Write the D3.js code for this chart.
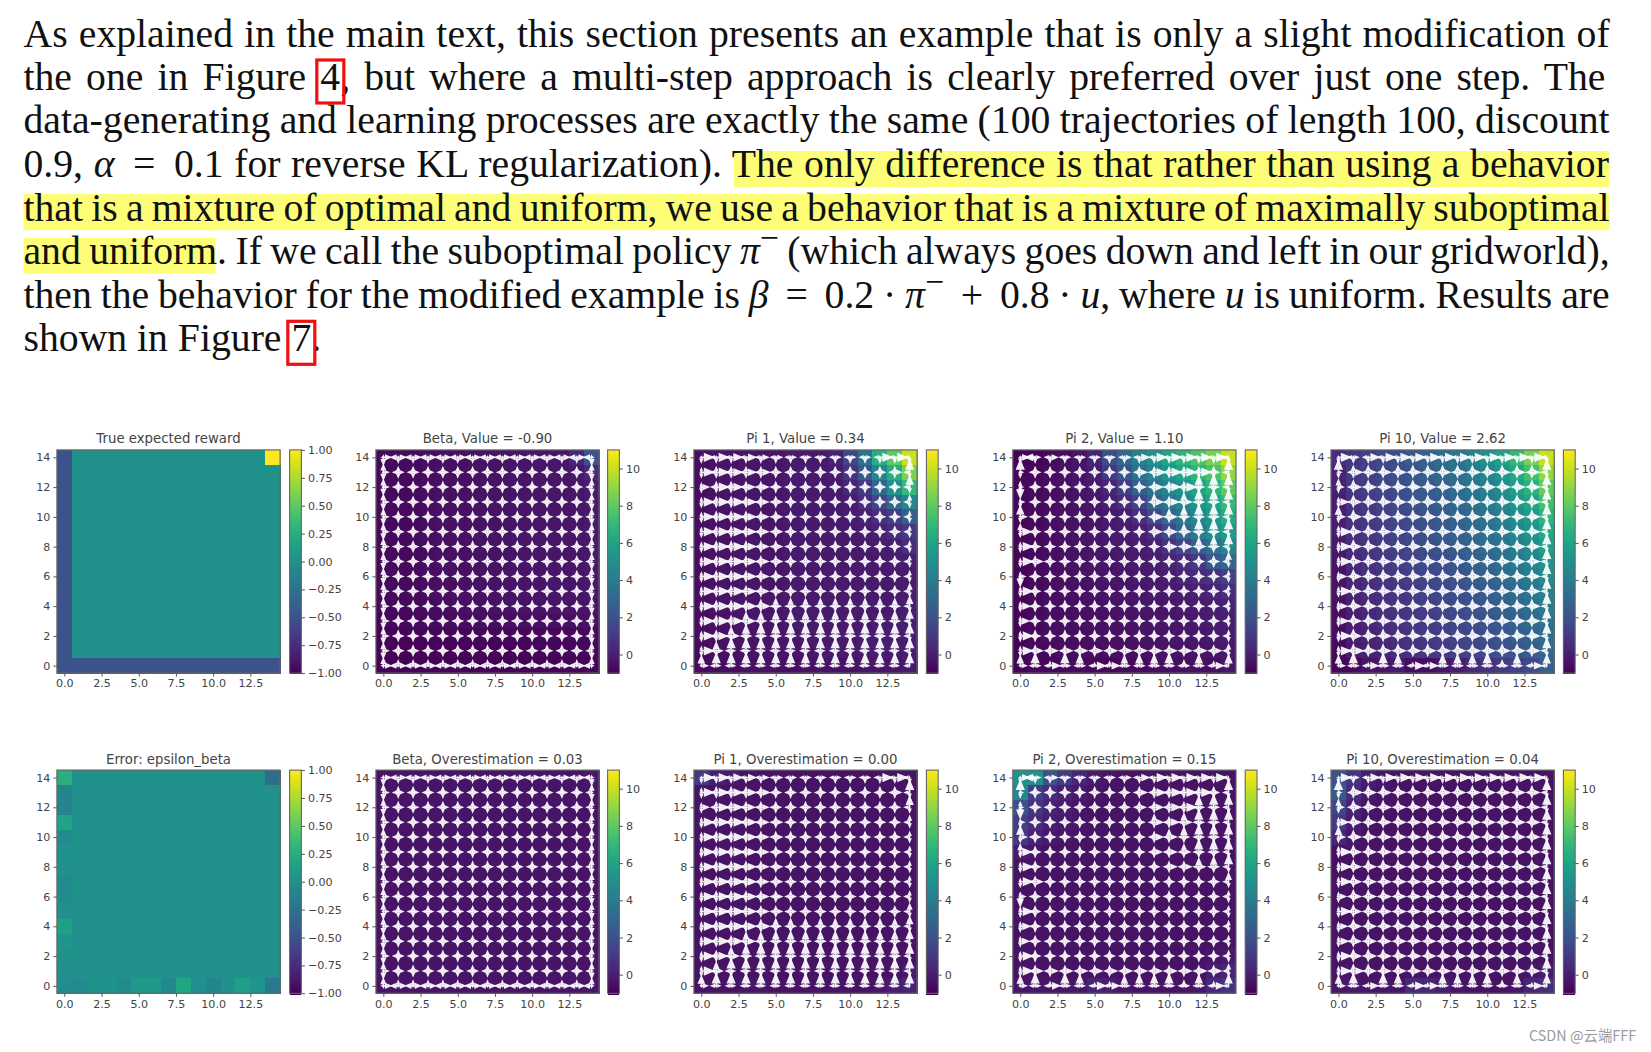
<!DOCTYPE html>
<html>
<head>
<meta charset="utf-8">
<script src="https://cdn.jsdelivr.net/npm/d3@7/dist/d3.min.js"></script>
<style>
  html, body { margin: 0; padding: 0; background: #fff; }
  svg { display: block; }
  .para { font-family: "Liberation Serif", serif; fill: #111; white-space: pre; }
  .para .m { font-style: italic; }
  .tick text, .ptitle { font-family: "DejaVu Sans", sans-serif; fill: #444; }
</style>
</head>
<body>
<svg id="page" width="1651" height="1052"></svg>
<script>
// ---- Paragraph text: "m" spans are set in italics, "sup" spans are raised, "ref" spans are boxed
const paragraphLines = [
  [["As explained in the main text, this section presents an example that is only a slight modification of"]],
  [["the one in Figure "], ["4", "ref"], [", but where a multi-step approach is clearly preferred over just one step.  The"]],
  [["data-generating and learning processes are exactly the same (100 trajectories of length 100, discount"]],
  [["0.9, "], ["α", "m"], [" \u2009=\u2009 0.1 for reverse KL regularization).  The only difference is that rather than using a behavior"]],
  [["that is a mixture of optimal and uniform, we use a behavior that is a mixture of maximally suboptimal"]],
  [["and uniform. If we call the suboptimal policy "], ["π", "m"], ["−", "sup"], [" (which always goes down and left in our gridworld),"]],
  [["then the behavior for the modified example is "], ["β", "m"], [" \u2009=\u2009 0.2 · "], ["π", "m"], ["−", "sup"], [" \u2009+\u2009 0.8 · "], ["u", "m"], [", where "], ["u", "m"], [" is uniform. Results are"]],
  [["shown in Figure "], ["7", "ref"], ["."]]
];

// ---- Heat map values, listed from the top row (y = 14) to the bottom row (y = 0)
const trueReward = [
  [-.5,0,0,0,0,0,0,0,0,0,0,0,0,0,1],
  [-.5,0,0,0,0,0,0,0,0,0,0,0,0,0,0],
  [-.5,0,0,0,0,0,0,0,0,0,0,0,0,0,0],
  [-.5,0,0,0,0,0,0,0,0,0,0,0,0,0,0],
  [-.5,0,0,0,0,0,0,0,0,0,0,0,0,0,0],
  [-.5,0,0,0,0,0,0,0,0,0,0,0,0,0,0],
  [-.5,0,0,0,0,0,0,0,0,0,0,0,0,0,0],
  [-.5,0,0,0,0,0,0,0,0,0,0,0,0,0,0],
  [-.5,0,0,0,0,0,0,0,0,0,0,0,0,0,0],
  [-.5,0,0,0,0,0,0,0,0,0,0,0,0,0,0],
  [-.5,0,0,0,0,0,0,0,0,0,0,0,0,0,0],
  [-.5,0,0,0,0,0,0,0,0,0,0,0,0,0,0],
  [-.5,0,0,0,0,0,0,0,0,0,0,0,0,0,0],
  [-.5,0,0,0,0,0,0,0,0,0,0,0,0,0,0],
  [-.5,-.5,-.5,-.5,-.5,-.5,-.5,-.5,-.5,-.5,-.5,-.5,-.5,-.5,-.5]
];
const errorBeta = [
  [.25,0,0,0,0,0,0,0,0,0,0,0,0,0,-.3],
  [-.1,0,0,0,0,0,0,0,0,0,0,0,0,0,0],
  [-.1,0,0,0,0,0,0,0,0,0,0,0,0,0,0],
  [.17,0,0,0,0,0,0,0,0,0,0,0,0,0,0],
  [-.04,0,0,0,0,0,0,0,0,0,0,0,0,0,0],
  [.02,0,0,0,0,0,0,0,0,0,0,0,0,0,0],
  [.02,0,0,0,0,0,0,0,0,0,0,0,0,0,0],
  [-.04,0,0,0,0,0,0,0,0,0,0,0,0,0,0],
  [-.05,0,0,0,0,0,0,0,0,0,0,0,0,0,0],
  [0,0,0,0,0,0,0,0,0,0,0,0,0,0,0],
  [.14,0,0,0,0,0,0,0,0,0,0,0,0,0,0],
  [.05,0,0,0,0,0,0,0,0,0,0,0,0,0,0],
  [.02,0,0,0,0,0,0,0,0,0,0,0,0,0,0],
  [0,0,0,0,0,0,0,0,0,0,0,0,0,0,0],
  [-.02,-.04,.01,.01,-.04,.08,.08,-.06,.18,-.01,-.09,0,.14,.04,-.2]
];
const betaValue = [
  [-.7,-.7,-.7,-.6,-.5,-.5,-.45,-.4,-.4,-.35,-.3,-.3,-.3,.3,2],
  [-.7,-.7,-.7,-.6,-.5,-.5,-.45,-.4,-.4,-.35,-.3,-.3,-.3,-.25,.4],
  [-.7,-.7,-.7,-.6,-.5,-.5,-.45,-.4,-.4,-.35,-.3,-.3,-.3,-.3,-.05],
  [-.7,-.7,-.7,-.6,-.5,-.5,-.45,-.4,-.4,-.35,-.3,-.3,-.3,-.3,-.2],
  [-.7,-.7,-.7,-.6,-.5,-.5,-.45,-.4,-.4,-.35,-.3,-.3,-.3,-.3,-.2],
  [-.7,-.7,-.7,-.6,-.5,-.5,-.45,-.4,-.4,-.35,-.3,-.3,-.3,-.3,-.2],
  [-.7,-.7,-.7,-.6,-.5,-.5,-.45,-.4,-.4,-.35,-.3,-.3,-.3,-.3,-.2],
  [-.7,-.7,-.7,-.6,-.5,-.5,-.45,-.4,-.4,-.35,-.3,-.3,-.3,-.3,-.2],
  [-.7,-.7,-.7,-.6,-.5,-.5,-.45,-.4,-.4,-.35,-.3,-.3,-.3,-.3,-.2],
  [-.7,-.7,-.7,-.6,-.55,-.5,-.45,-.45,-.4,-.35,-.35,-.3,-.3,-.3,-.25],
  [-.75,-.75,-.7,-.65,-.6,-.55,-.5,-.5,-.45,-.4,-.4,-.35,-.35,-.35,-.3],
  [-.8,-.8,-.75,-.7,-.7,-.65,-.65,-.6,-.6,-.6,-.55,-.55,-.55,-.5,-.5],
  [-.9,-.9,-.85,-.85,-.85,-.85,-.85,-.85,-.8,-.8,-.8,-.8,-.8,-.8,-.75],
  [-.9,-.9,-.9,-.9,-.9,-.9,-.9,-.9,-.9,-.9,-.85,-.85,-.85,-.85,-.8],
  [-.95,-.95,-.95,-.95,-.95,-.95,-.95,-.95,-.95,-.95,-.9,-.9,-.9,-.9,-.85]
];
const betaOver = [
  [-.35,-.35,-.35,-.35,-.35,-.35,-.35,-.35,-.35,-.35,-.35,-.35,-.35,-.35,-.2],
  [-.35,-.35,-.35,-.35,-.35,-.35,-.35,-.35,-.35,-.35,-.35,-.35,-.35,-.35,-.35],
  [-.35,-.35,-.35,-.35,-.35,-.35,-.35,-.35,-.35,-.35,-.35,-.35,-.35,-.35,-.35],
  [-.35,-.35,-.35,-.35,-.35,-.35,-.35,-.35,-.35,-.35,-.35,-.35,-.35,-.35,-.35],
  [-.35,-.35,-.35,-.35,-.35,-.35,-.35,-.35,-.35,-.35,-.35,-.35,-.35,-.35,-.35],
  [-.35,-.35,-.35,-.35,-.35,-.35,-.35,-.35,-.35,-.35,-.35,-.35,-.35,-.35,-.35],
  [-.35,-.35,-.35,-.35,-.35,-.35,-.35,-.35,-.35,-.35,-.35,-.35,-.35,-.35,-.35],
  [-.35,-.35,-.35,-.35,-.35,-.35,-.35,-.35,-.35,-.35,-.35,-.35,-.35,-.35,-.35],
  [-.35,-.35,-.35,-.35,-.35,-.35,-.35,-.35,-.35,-.35,-.35,-.35,-.35,-.35,-.35],
  [-.35,-.35,-.35,-.35,-.35,-.35,-.35,-.35,-.35,-.35,-.35,-.35,-.35,-.35,-.35],
  [-.35,-.35,-.35,-.35,-.35,-.35,-.35,-.35,-.35,-.35,-.35,-.35,-.35,-.35,-.35],
  [-.35,-.35,-.35,-.35,-.35,-.35,-.35,-.35,-.35,-.35,-.35,-.35,-.35,-.35,-.35],
  [-.35,-.35,-.35,-.35,-.35,-.35,-.35,-.35,-.35,-.35,-.35,-.35,-.35,-.35,-.35],
  [-.35,-.35,-.35,-.35,-.35,-.35,-.35,-.35,-.35,-.35,-.35,-.35,-.35,-.35,-.35],
  [-.35,-.35,-.35,-.35,-.35,-.35,-.35,-.35,-.35,-.35,-.35,-.35,-.35,-.35,-.3]
];
const pi1Value = [
  [-.6,-.4,-.4,-.3,-.3,-.3,-.2,-.2,-.2,.1,1.5,3.5,6.5,8,10],
  [-.6,-.4,-.4,-.3,-.3,-.3,-.2,-.2,-.2,-.1,.8,2.3,4.5,6.5,8.6],
  [-.6,-.4,-.4,-.3,-.3,-.3,-.2,-.2,-.2,-.2,.3,1,3,5,7],
  [-.6,-.4,-.4,-.3,-.3,-.3,-.2,-.2,-.2,-.2,-.1,.5,1.5,3,4.6],
  [-.6,-.4,-.4,-.3,-.3,-.3,-.2,-.2,-.2,-.2,-.1,.1,.6,1.2,2.5],
  [-.6,-.4,-.4,-.3,-.3,-.3,-.2,-.2,-.2,-.2,-.2,-.1,.1,.5,1],
  [-.6,-.4,-.4,-.3,-.3,-.3,-.2,-.2,-.2,-.2,-.2,-.2,-.1,0,.5],
  [-.6,-.4,-.4,-.3,-.3,-.3,-.2,-.2,-.2,-.2,-.2,-.2,-.2,-.1,0],
  [-.6,-.4,-.4,-.3,-.3,-.3,-.2,-.2,-.2,-.2,-.2,-.2,-.2,-.2,-.1],
  [-.6,-.4,-.4,-.3,-.3,-.3,-.2,-.2,-.2,-.2,-.2,-.2,-.2,-.2,-.1],
  [-.6,-.4,-.4,-.3,-.3,-.3,-.2,-.2,-.2,-.2,-.2,-.2,-.2,-.2,-.1],
  [-.6,-.5,-.4,-.3,-.3,-.3,-.2,-.2,-.2,-.2,-.2,-.2,-.1,-.1,0],
  [-.6,-.5,-.4,-.4,-.3,-.3,-.3,-.2,-.2,-.2,-.2,-.1,-.1,-.1,0],
  [-.7,-.5,-.5,-.4,-.4,-.3,-.3,-.3,-.2,-.2,-.2,-.1,-.1,-.1,0],
  [-.7,-.6,-.6,-.5,-.5,-.5,-.5,-.4,-.4,-.4,-.4,-.3,-.3,-.3,-.2]
];
const pi1Over = [
  [1,0,-.2,-.4,-.4,-.4,-.4,-.4,-.4,-.4,-.4,-.4,-.4,-.4,-.4],
  [-.4,-.4,-.4,-.4,-.4,-.4,-.4,-.4,-.4,-.4,-.4,-.4,-.4,-.4,-.4],
  [-.4,-.4,-.4,-.4,-.4,-.4,-.4,-.4,-.4,-.4,-.4,-.4,-.4,-.4,-.4],
  [-.4,-.4,-.4,-.4,-.4,-.4,-.4,-.4,-.4,-.4,-.4,-.4,-.4,-.4,-.4],
  [-.4,-.4,-.4,-.4,-.4,-.4,-.4,-.4,-.4,-.4,-.4,-.4,-.4,-.4,-.4],
  [-.5,-.4,-.4,-.4,-.4,-.4,-.4,-.4,-.4,-.4,-.4,-.4,-.4,-.4,-.4],
  [-.5,-.4,-.4,-.4,-.4,-.4,-.4,-.4,-.4,-.4,-.4,-.4,-.4,-.4,-.4],
  [-.5,-.4,-.4,-.4,-.4,-.4,-.4,-.4,-.4,-.4,-.4,-.4,-.4,-.4,-.4],
  [-.5,-.4,-.4,-.4,-.4,-.4,-.4,-.4,-.4,-.4,-.4,-.4,-.4,-.4,-.4],
  [-.5,-.4,-.4,-.4,-.4,-.4,-.4,-.4,-.4,-.4,-.4,-.4,-.4,-.4,-.4],
  [-.4,-.4,-.4,-.4,-.4,-.4,-.4,-.4,-.4,-.4,-.4,-.4,-.4,-.4,-.4],
  [-.4,-.4,-.4,-.4,-.4,-.4,-.4,-.4,-.4,-.4,-.4,-.4,-.4,-.4,-.4],
  [-.4,-.4,-.4,-.4,-.4,-.4,-.4,-.4,-.4,-.4,-.4,-.4,-.4,-.4,-.4],
  [-.4,-.4,-.4,-.4,-.4,-.4,-.4,-.4,-.4,-.4,-.4,-.4,-.4,-.4,-.2],
  [-.4,-.4,-.4,-.3,-.3,-.4,-.4,-.4,-.4,-.4,-.4,-.4,-.3,-.1,.2]
];
const pi2Value = [
  [-.9,-.9,-.7,-.6,-.3,.2,1.8,3,4.2,5,6,6.8,7.6,8.6,10],
  [-.8,-.8,-.6,-.5,-.3,0,1,2.2,3.5,4.4,5.2,6,6.8,7.6,9],
  [-.8,-.7,-.6,-.5,-.3,-.2,.3,1.2,2.6,3.6,4.4,5.2,6,6.8,8],
  [-.8,-.7,-.6,-.5,-.4,-.3,0,.5,1.4,2.8,3.6,4.5,5.3,6,7.1],
  [-.8,-.7,-.6,-.5,-.4,-.3,-.2,0,.6,1.7,2.9,3.8,4.6,5.4,6.4],
  [-.9,-.7,-.6,-.5,-.4,-.3,-.2,-.1,.1,.6,1.6,2.9,3.9,4.7,5.6],
  [-.8,-.7,-.6,-.5,-.4,-.3,-.2,-.2,-.1,.1,.7,1.5,2.6,3.5,4.6],
  [-.9,-.7,-.6,-.5,-.4,-.3,-.3,-.2,-.2,-.1,.2,.5,1,2.4,2.9],
  [-.9,-.7,-.6,-.5,-.4,-.4,-.3,-.3,-.2,-.2,-.1,.3,.5,.8,1.3],
  [-.9,-.7,-.6,-.5,-.5,-.4,-.4,-.3,-.3,-.2,-.2,-.1,.1,.3,.6],
  [-.9,-.7,-.6,-.6,-.5,-.5,-.4,-.4,-.3,-.3,-.3,-.2,-.1,0,.2],
  [-.9,-.7,-.6,-.6,-.5,-.5,-.5,-.4,-.4,-.3,-.3,-.3,-.2,-.1,0],
  [-.9,-.7,-.6,-.6,-.6,-.5,-.5,-.5,-.4,-.4,-.3,-.3,-.3,-.2,-.1],
  [-.9,-.7,-.7,-.6,-.6,-.6,-.5,-.5,-.5,-.4,-.4,-.4,-.3,-.3,-.2],
  [-.9,-.8,-.8,-.7,-.7,-.8,-.8,-.7,-.7,-.6,-.6,-.5,-.5,-.6,-.3]
];
const pi2Over = [
  [5,5,2,1,.3,-.2,-.3,-.4,-.4,-.4,-.4,-.4,-.4,-.4,-.4],
  [4.5,1.2,.5,.1,-.2,-.3,-.4,-.4,-.4,-.4,-.4,-.4,-.4,-.4,-.4],
  [2,.8,.2,-.1,-.3,-.4,-.4,-.4,-.4,-.4,-.4,-.4,-.4,-.4,-.4],
  [1.2,.5,0,-.2,-.3,-.4,-.4,-.4,-.4,-.4,-.4,-.4,-.4,-.4,-.4],
  [.9,.1,-.2,-.3,-.4,-.4,-.4,-.4,-.4,-.4,-.4,-.4,-.4,-.4,-.4],
  [-.2,-.3,-.4,-.4,-.4,-.4,-.4,-.4,-.4,-.4,-.4,-.4,-.4,-.4,-.4],
  [-.4,-.4,-.4,-.4,-.4,-.4,-.4,-.4,-.4,-.4,-.4,-.4,-.4,-.4,-.4],
  [-.4,-.4,-.4,-.4,-.4,-.4,-.4,-.4,-.4,-.4,-.4,-.4,-.4,-.4,-.4],
  [-.4,-.4,-.4,-.4,-.4,-.4,-.4,-.4,-.4,-.4,-.4,-.4,-.4,-.4,-.4],
  [-.4,-.4,-.4,-.4,-.4,-.4,-.4,-.4,-.4,-.4,-.4,-.4,-.4,-.4,-.4],
  [-.4,-.4,-.4,-.4,-.4,-.4,-.4,-.4,-.4,-.4,-.4,-.4,-.4,-.4,-.4],
  [-.4,-.4,-.4,-.4,-.4,-.4,-.4,-.4,-.4,-.4,-.4,-.4,-.4,-.4,-.4],
  [-.4,-.4,-.4,-.4,-.4,-.4,-.4,-.4,-.4,-.4,-.4,-.4,-.4,-.3,-.2],
  [-.4,-.4,-.4,-.4,-.4,-.4,-.4,-.4,-.4,-.4,-.4,-.4,-.4,-.1,.3],
  [-.3,-.3,-.3,-.3,-.3,.2,0,-.3,-.4,-.4,-.4,-.4,-.3,.4,.8]
];
const pi10Value = [
  [.5,.9,1.3,1.6,1.9,2.3,2.7,3.1,3.6,4.2,5,5.9,7,8.5,10],
  [.2,1,1.3,1.6,1.9,2.2,2.6,3,3.4,3.9,4.5,5.3,6.2,7.4,9],
  [.1,.9,1.2,1.5,1.8,2.1,2.4,2.8,3.2,3.7,4.2,4.9,5.7,6.7,8.1],
  [0,.8,1.1,1.4,1.7,2,2.3,2.6,3,3.4,3.9,4.5,5.2,6.1,7.4],
  [0,.7,1,1.3,1.6,1.8,2.1,2.4,2.8,3.2,3.6,4.2,4.8,5.6,6.8],
  [-.1,.6,.9,1.2,1.4,1.7,2,2.3,2.6,3,3.4,3.9,4.5,5.2,6.2],
  [-.2,.5,.8,1.1,1.3,1.6,1.8,2.1,2.4,2.8,3.2,3.6,4.2,4.8,5.7],
  [-.3,.4,.7,1,1.2,1.4,1.7,1.9,2.2,2.6,2.9,3.3,3.8,4.4,5.2],
  [-.4,.3,.6,.8,1,1.3,1.5,1.8,2,2.4,2.7,3.1,3.5,4,4.8],
  [-.4,.2,.5,.7,.9,1.1,1.4,1.6,1.9,2.2,2.5,2.8,3.2,3.7,4.4],
  [-.5,.1,.4,.6,.8,1,1.2,1.5,1.7,2,2.3,2.6,2.9,3.4,4],
  [-.5,0,.3,.5,.7,.9,1.1,1.3,1.5,1.8,2.1,2.4,2.7,3.1,3.6],
  [-.6,0,.2,.4,.6,.8,1,1.2,1.4,1.6,1.9,2.2,2.5,2.8,3.3],
  [-.7,-.1,.1,.3,.5,.7,.9,1.1,1.3,1.5,1.7,2,2.2,2.5,3],
  [-.8,-.7,-.3,-.3,-.2,-.6,-.6,-.3,0,.4,.7,1,1.3,1.7,2.6]
];
const pi10Over = [
  [2,.8,0,-.3,-.4,-.4,-.4,-.4,-.4,-.4,-.4,-.4,-.4,-.4,-.4],
  [2.3,.5,-.2,-.3,-.4,-.4,-.4,-.4,-.4,-.4,-.4,-.4,-.4,-.4,-.4],
  [1.5,.2,-.3,-.4,-.4,-.4,-.4,-.4,-.4,-.4,-.4,-.4,-.4,-.4,-.4],
  [1,-.1,-.4,-.4,-.4,-.4,-.4,-.4,-.4,-.4,-.4,-.4,-.4,-.4,-.4],
  [.3,-.3,-.4,-.4,-.4,-.4,-.4,-.4,-.4,-.4,-.4,-.4,-.4,-.4,-.4],
  [-.5,-.4,-.4,-.4,-.4,-.4,-.4,-.4,-.4,-.4,-.4,-.4,-.4,-.4,-.4],
  [-.5,-.4,-.4,-.4,-.4,-.4,-.4,-.4,-.4,-.4,-.4,-.4,-.4,-.4,-.4],
  [-.4,-.4,-.4,-.4,-.4,-.4,-.4,-.4,-.4,-.4,-.4,-.4,-.4,-.4,-.4],
  [-.4,-.4,-.4,-.4,-.4,-.4,-.4,-.4,-.4,-.4,-.4,-.4,-.4,-.4,-.4],
  [-.4,-.4,-.4,-.4,-.4,-.4,-.4,-.4,-.4,-.4,-.4,-.4,-.4,-.4,-.4],
  [-.4,-.4,-.4,-.4,-.4,-.4,-.4,-.4,-.4,-.4,-.4,-.4,-.4,-.4,-.4],
  [-.4,-.4,-.4,-.4,-.4,-.4,-.4,-.4,-.4,-.4,-.4,-.4,-.4,-.4,-.4],
  [-.4,-.4,-.4,-.4,-.4,-.4,-.4,-.4,-.4,-.4,-.4,-.4,-.4,-.4,-.4],
  [-.4,-.3,-.4,-.4,-.4,-.4,-.4,-.4,-.4,-.4,-.4,-.4,-.4,-.3,-.1],
  [-.3,-.2,-.3,-.3,-.4,.4,.3,0,-.3,-.4,-.4,-.4,-.3,.3,.6]
];

// ---- Action probabilities per state: one digit per column, top row first (0 = no arrow, 9 = most likely)
const betaRight = ["555555555555555","333333333333333","333333333333333","333333333333333","333333333333333","333333333333333","333333333333333","333333333333333","333333333333333","333333333333333","333333333333333","333333333333333","333333333333333","333333333333333","555555555555555"];
const betaUp    = ["533333333333335","533333333333335","533333333333335","533333333333335","533333333333335","533333333333335","533333333333335","533333333333335","533333333333335","533333333333335","533333333333335","533333333333335","533333333333335","533333333333335","533333333333335"];

const pi1Right = ["998754333333990","998763333333340","598653333333330","999754333333330","999754333333330","999754333333330","999754333333330","999754333333330","999754333333330","999754333333330","999763333333330","998633333333330","985333333333330","942222222222220","422222222222220"];
const pi1Up    = ["333333333333333","233333333333339","233333333333338","233333333333334","233333333333333","233333333333333","233333333333333","233333333333333","233333333333333","233333333333335","233345555555557","233667777777778","236899999999999","269999999999999","799999999999999"];

const pi2Right = ["635333347999990","133333335899930","133333334689330","233333333675330","433333333653330","833333333554330","933333333355430","953333333333330","333333333333330","933333333333330","733333333333330","633333333333330","933333333333330","955555555555550","437338733333370"];
const pi2Up    = ["333333333333333","933333333333339","333333333333899","133333333536999","833333333357999","533333333335999","233333333333679","133333333333336","233333333333333","233333333333333","233333333333333","233333333333333","233333333333333","233333333333334","792981278893828"];
const pi2Extra = [[0, 12, "down", 8], [0, 6, "down", 7], [1, 14, "left", 7]];

const pi10Right = ["938999999999990","165555555555550","355555555555550","755555555555550","455555555555550","955555555555550","955555555555550","955555555555550","555555555555550","955555555555550","655555555555550","755555555555550","955555555555550","975555555555550","437338733333370"];
const pi10Up    = ["333333333333333","944444444444449","544444444444449","244444444444449","744444444444449","344444444444449","244444444444449","244444444444449","244444444444449","244444444444449","244444444444449","244444444444449","244444444444449","244444444444449","791981188893818"];

const topTitles = ["True expected reward", "Beta, Value = -0.90", "Pi 1, Value = 0.34", "Pi 2, Value = 1.10", "Pi 10, Value = 2.62"];
const bottomTitles = ["Error: epsilon_beta", "Beta, Overestimation = 0.03", "Pi 1, Overestimation = 0.00", "Pi 2, Overestimation = 0.15", "Pi 10, Overestimation = 0.04"];
const xTickValues = [0, 2.5, 5, 7.5, 10, 12.5];
const yTickValues = [0, 2, 4, 6, 8, 10, 12, 14];
const rewardBarTicks = [-1, -.75, -.5, -.25, 0, .25, .5, .75, 1];
const valueBarTicks = [0, 2, 4, 6, 8, 10];
const watermark = "CSDN @云端FFF";

// ---- Layout
const axesLeft = [56.9, 375.9, 693.9, 1012.8, 1331];
const barLeft = [289.6, 607.6, 926.4, 1245.2, 1563.4];
const rowTop = [449.9, 770.1];
const axesSize = 223.2;
const barWidth = 11.8;
const textLeft = 23.5, textRight = 1609.6, fontSize = 39.7;
const baselines = [46.7, 90, 133.4, 177.2, 220.7, 264.2, 307.8, 351.3];

const svg = d3.select("#page");

// ---- Paragraph: highlighter first, then the justified lines, then the link boxes
const marks = svg.append("g").attr("fill", "#fdfd78");
marks.append("rect").attr("x", 733.7).attr("y", 151).attr("width", textRight - 733.7).attr("height", 36);
marks.append("rect").attr("x", textLeft).attr("y", 194).attr("width", textRight - textLeft).attr("height", 36.2);
marks.append("rect").attr("x", textLeft).attr("y", 238).attr("width", 215.5 - textLeft).attr("height", 35.3);

const para = svg.append("g").attr("class", "para").attr("font-size", fontSize);
paragraphLines.forEach((spans, i) => {
  const line = para.append("text").attr("x", textLeft).attr("y", baselines[i]);
  let raised = false;
  spans.forEach(([str, kind]) => {
    const t = line.append("tspan").text(str);
    if (kind === "m") t.attr("class", "m");
    if (kind === "ref") t.attr("class", "ref");
    if (kind === "sup") { t.attr("dy", -15).attr("font-size", fontSize * 0.85); raised = true; }
    else if (raised) { t.attr("dy", 15); raised = false; }
  });
  // fit the interword gaps so every line but the last fills the measure
  if (i < paragraphLines.length - 1) {
    const full = spans.map(s => s[0]).join("");
    const gaps = (full.match(/ /g) || []).length;
    const natural = line.node().getComputedTextLength();
    line.style("word-spacing", ((textRight - textLeft - natural) / gaps) + "px");
  }
});
para.selectAll("tspan.ref").each(function () {
  const box = this.getBBox();
  const base = +this.parentNode.getAttribute("y");
  const cx = box.x + box.width / 2;
  svg.append("rect")
    .attr("x", cx - 13.5).attr("y", base - 30).attr("width", 27).attr("height", 43)
    .attr("fill", "none").attr("stroke", "#f01010").attr("stroke-width", 3.2);
});

// ---- Small multiples
const headings = { right: [1, 0], left: [-1, 0], up: [0, 1], down: [0, -1] };
const restLevel = 3;
const levelAt = (rows, col, row) => rows ? +rows[14 - row][col] : restLevel;
const reachOf = d3.scaleLinear().domain([1, 9]).range([0.28, 0.92]);

function arrowPath(x, y, col, row, dir, level) {
  if (!level) return "";
  const [dx, dy] = headings[dir];
  const inGrid = col + dx >= 0 && col + dx <= 14 && row + dy >= 0 && row + dy <= 14;
  const reach = reachOf(level) * (inGrid ? 1 : 0.35);
  const x0 = x(col), y0 = y(row), x1 = x(col + dx * reach), y1 = y(row + dy * reach);
  const len = Math.hypot(x1 - x0, y1 - y0);
  const ux = (x1 - x0) / len, uy = (y1 - y0) / len;
  const headLen = Math.min(len * 0.82, 12), headHalf = Math.min(len * 0.34, 4.7), shaft = 0.8;
  const bx = x1 - ux * headLen, by = y1 - uy * headLen;
  const p = d3.path();
  p.moveTo(x0 - uy * shaft, y0 + ux * shaft);
  p.lineTo(bx - uy * shaft, by + ux * shaft);
  p.lineTo(bx - uy * headHalf, by + ux * headHalf);
  p.lineTo(x1, y1);
  p.lineTo(bx + uy * headHalf, by - ux * headHalf);
  p.lineTo(bx + uy * shaft, by - ux * shaft);
  p.lineTo(x0 + uy * shaft, y0 - ux * shaft);
  p.closePath();
  return p.toString();
}

function styleAxis(g) {
  g.selectAll(".domain").remove();
  g.selectAll(".tick line").attr("stroke", "#555").attr("stroke-width", 1);
  g.selectAll(".tick text").attr("font-size", 11.1);
}

function drawPanel(cfg) {
  const { left, top, barX, title, values, domain, barTicks, barFormat, policy } = cfg;
  const g = svg.append("g");
  const x = d3.scaleLinear().domain([-0.5, 14.5]).range([left, left + axesSize]);
  const y = d3.scaleLinear().domain([-0.5, 14.5]).range([top + axesSize, top]);
  const color = d3.scaleSequential(d3.interpolateViridis).domain(domain);

  // cells
  g.append("g").attr("shape-rendering", "crispEdges")
    .selectAll("g").data(values).join("g")
    .each(function (rowValues, r) {
      const row = 14 - r;
      d3.select(this).selectAll("rect").data(rowValues).join("rect")
        .attr("x", (d, col) => x(col - 0.5))
        .attr("y", y(row + 0.5))
        .attr("width", x(1) - x(0) + 0.4)
        .attr("height", y(0) - y(1) + 0.4)
        .attr("fill", d => color(d));
    });

  // policy arrows
  if (policy) {
    const arrows = g.append("g").attr("fill", "#fff").attr("fill-opacity", 0.93);
    d3.range(15).forEach(row => d3.range(15).forEach(col => {
      [["left", policy.left], ["down", policy.down], ["up", policy.up], ["right", policy.right]].forEach(([dir, rows]) => {
        arrows.append("path").attr("d", arrowPath(x, y, col, row, dir, levelAt(rows, col, row)));
      });
    }));
    (policy.extra || []).forEach(([col, row, dir, level]) => {
      arrows.append("path").attr("d", arrowPath(x, y, col, row, dir, level));
    });
  }

  // frame and axes
  g.append("rect").attr("x", left).attr("y", top).attr("width", axesSize).attr("height", axesSize)
    .attr("fill", "none").attr("stroke", "#666").attr("stroke-width", 1.2);
  const xAxis = d3.axisBottom(x).tickValues(xTickValues).tickFormat(d3.format(".1f")).tickSize(3.5).tickPadding(3);
  const yAxis = d3.axisLeft(y).tickValues(yTickValues).tickFormat(d3.format("d")).tickSize(3.5).tickPadding(3);
  g.append("g").attr("transform", `translate(0,${top + axesSize})`).call(xAxis).call(styleAxis);
  g.append("g").attr("transform", `translate(${left},0)`).call(yAxis).call(styleAxis);
  g.append("text").attr("class", "ptitle").attr("x", left + axesSize / 2).attr("y", top - 6.5)
    .attr("text-anchor", "middle").attr("font-size", 13.3).text(title);

  // colour bar
  const bar = d3.scaleLinear().domain(domain).range([top + axesSize, top]);
  const steps = d3.range(0, 224);
  g.append("g").attr("shape-rendering", "crispEdges").selectAll("rect").data(steps).join("rect")
    .attr("x", barX).attr("width", barWidth)
    .attr("y", d => top + d).attr("height", 1.5)
    .attr("fill", d => color(bar.invert(top + d + 0.5)));
  g.append("rect").attr("x", barX).attr("y", top).attr("width", barWidth).attr("height", axesSize)
    .attr("fill", "none").attr("stroke", "#666").attr("stroke-width", 1.1);
  const barAxis = d3.axisRight(bar).tickValues(barTicks).tickFormat(barFormat).tickSize(3.5).tickPadding(3);
  g.append("g").attr("transform", `translate(${barX + barWidth},0)`).call(barAxis).call(styleAxis);
}

const policies = [
  null,
  { right: betaRight, up: betaUp, left: betaRight, down: betaUp },
  { right: pi1Right, up: pi1Up },
  { right: pi2Right, up: pi2Up, extra: pi2Extra },
  { right: pi10Right, up: pi10Up }
];
const valueGrids = [[trueReward, betaValue, pi1Value, pi2Value, pi10Value], [errorBeta, betaOver, pi1Over, pi2Over, pi10Over]];
const titleRows = [topTitles, bottomTitles];

rowTop.forEach((top, r) => {
  axesLeft.forEach((left, c) => {
    drawPanel({
      left, top, barX: barLeft[c],
      title: titleRows[r][c],
      values: valueGrids[r][c],
      domain: c === 0 ? [-1, 1] : [-1, 11],
      barTicks: c === 0 ? rewardBarTicks : valueBarTicks,
      barFormat: c === 0 ? d3.format(".2f") : d3.format("d"),
      policy: policies[c]
    });
  });
});

svg.append("text").attr("x", 1529).attr("y", 1041)
  .attr("font-family", "'Noto Sans CJK SC', 'Noto Sans', sans-serif")
  .attr("font-size", 14.4).attr("fill", "#9a9a9a").text(watermark);
</script>
</body>
</html>
